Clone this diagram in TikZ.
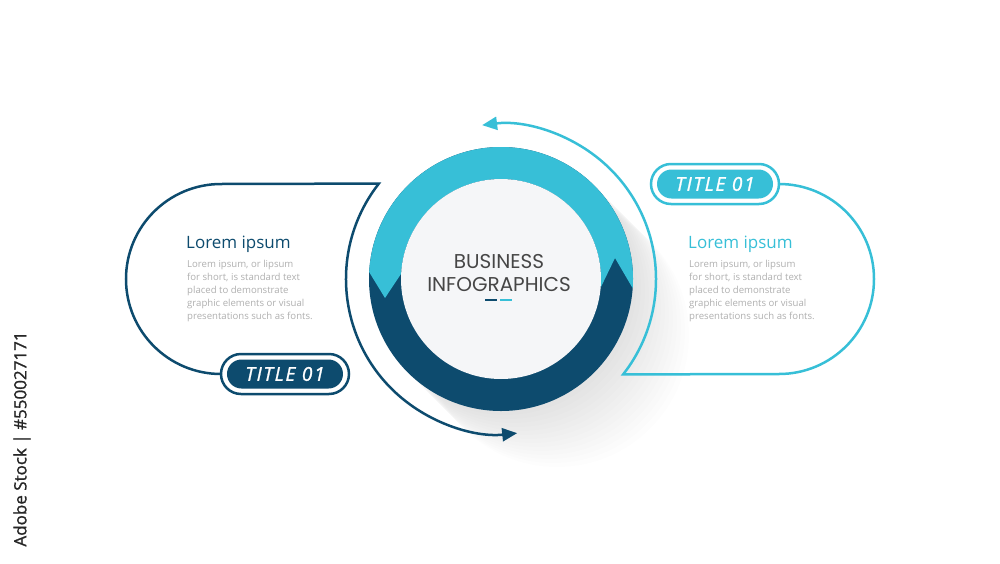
\documentclass[tikz,border=0pt]{standalone}
\usepackage{fontspec}
\setmainfont{Open Sans}
\newfontfamily\popfont{Poppins}
\newfontfamily\ttlfont[LetterSpace=9, FakeBold=1.3]{Open Sans}
\newfontfamily\stockfont[FakeBold=1.2]{Open Sans}
\usepackage{tikz}
\usetikzlibrary{arrows.meta}
\definecolor{celeste}{RGB}{55, 191, 215}
\definecolor{marino}{RGB}{13, 75, 110}
\definecolor{gris}{RGB}{175, 175, 175}
\definecolor{carbon}{RGB}{70, 70, 70}
\definecolor{humo}{RGB}{245, 246, 248}
\tikzset{
    badgeOut/.style={draw=#1, line width=2.5pt, fill=white, rounded corners=20pt, minimum width=128pt, minimum height=40pt, outer sep=0pt},
    badgeIn/.style={fill=#1, text=white, rounded corners=14.5pt, minimum width=116pt, minimum height=29pt, inner sep=0pt, font=\ttlfont\itshape\fontsize{19}{19}\selectfont},
    head/.style={text=#1, anchor=base west, inner sep=0pt, font=\fontsize{17}{17}\selectfont},
    body/.style={text=gris, anchor=north west, align=left, inner sep=0pt, font=\fontsize{9.6}{13}\selectfont},
    conn/.style={draw=#1, line width=2.5pt, -{Triangle[length=15pt, width=13pt]}},
}
\begin{document}
\begin{tikzpicture}[x=1pt, y=1pt]
    \useasboundingbox (-501,-284) rectangle (499,279);
    \foreach \d in {4,8,...,56}
        \fill[black, opacity=0.009] (\d,-\d) circle[radius=132];
    \fill[marino] (0,0) circle[radius=132];
    \fill[celeste] (-4:132) arc[start angle=-4, end angle=177, radius=132] -- (-116,-19)
        -- (177:100) arc[start angle=177, end angle=-5, radius=100] -- (114,21) -- cycle;
    \node[circle, fill=humo, minimum size=200pt, inner sep=0pt] (core) at (0,0) {};

    \node[text=carbon, anchor=base, font=\popfont\fontsize{20}{20}\selectfont] (biz) at (-2,11) {BUSINESS};
    \node[text=carbon, anchor=base, font=\popfont\fontsize{20}{20}\selectfont] (info) at (-2,-12) {INFOGRAPHICS};
    \draw[marino, line width=2pt] (-16,-21) -- (-4,-21);
    \draw[celeste, line width=2pt] (-1,-21) -- (11,-21);

    \node[badgeOut=marino] (ttl1) at (-216,-95) {};
    \node[badgeIn=marino] (ttl1in) at (ttl1) {TITLE 01};
    \node[badgeOut=celeste] (ttl2) at (214,95) {};
    \node[badgeIn=celeste] (ttl2in) at (ttl2) {TITLE 01};

    \coordinate (lstart) at (142:155);
    \coordinate (rstart) at (-38:155);
    \draw[conn=marino] (ttl1.west) arc[start angle=270, end angle=90, radius=95] -- (lstart)
        arc[start angle=142, end angle=276, radius=155];
    \draw[conn=celeste] (ttl2.east) arc[start angle=90, end angle=-90, radius=95] -- (rstart)
        arc[start angle=-38, end angle=97, radius=155];

    \node[head=marino] (head1) at (-315,31) {Lorem ipsum};
    \node[body] (txt1) at (-314,19) {Lorem ipsum, or lipsum\\for short, is standard text\\placed to demonstrate\\graphic elements or visual\\presentations such as fonts.};
    \node[head=celeste] (head2) at (187,31) {Lorem ipsum};
    \node[body] (txt2) at (188,19) {Lorem ipsum, or lipsum\\for short, is standard text\\placed to demonstrate\\graphic elements or visual\\presentations such as fonts.};

    \node[rotate=90, text=black!85, font=\stockfont\fontsize{17}{17}\selectfont] (stock) at (-479,-160) {Adobe Stock | \#550027171};
\end{tikzpicture}
\end{document}
